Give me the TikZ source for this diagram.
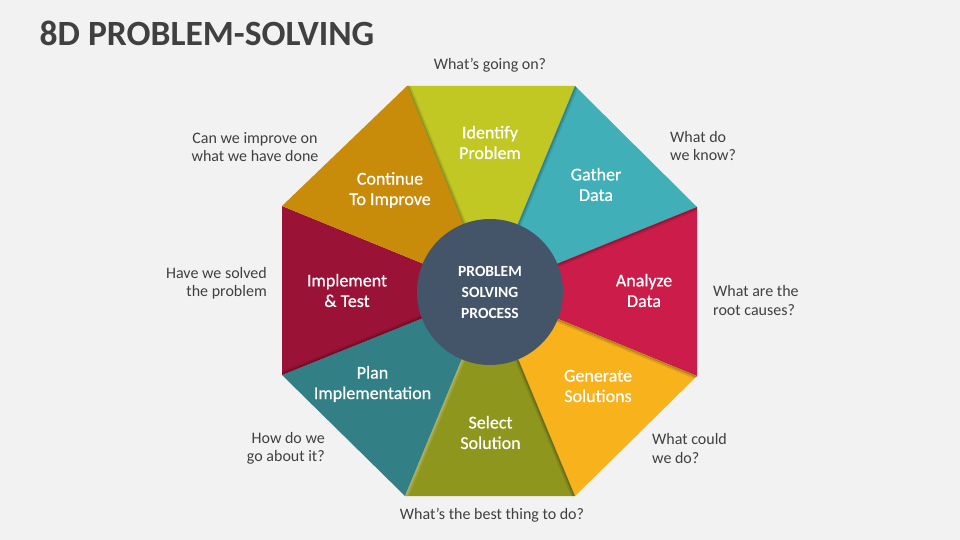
\documentclass[tikz,border=0pt]{standalone}
\usepackage{fontspec}
\setmainfont{Carlito}
\newfontfamily\segfont[FakeBold=0.6]{Carlito}
\definecolor{bg}{HTML}{F2F2F2}
\definecolor{txt}{HTML}{404040}
\definecolor{cIdent}{HTML}{C2C823}
\definecolor{cGather}{HTML}{40AFB8}
\definecolor{cAnalyze}{HTML}{CB1C4A}
\definecolor{cGenerate}{HTML}{F8B21C}
\definecolor{cSelect}{HTML}{8F961E}
\definecolor{cPlan}{HTML}{327F85}
\definecolor{cImpl}{HTML}{9B1237}
\definecolor{cCont}{HTML}{C88B0A}
\definecolor{cCenter}{HTML}{445569}
\newcommand\shedge[5]{%
  \begin{scope}
    \clip (#1) -- (#2) -- (#3) -- cycle;
    \draw[#5, opacity=0.10, line width=7pt] (#4) -- (C);
    \draw[#5, opacity=0.16, line width=3.5pt] (#4) -- (C);
  \end{scope}}
\tikzset{
  segtext/.style={text=white, align=center, font=\segfont\fontsize{18}{20.5}\selectfont, inner sep=0pt},
  labeltext/.style={text=txt, font=\fontsize{16}{18.5}\selectfont, inner sep=0pt},
  centertext/.style={text=white, align=center, font=\bfseries\fontsize{15.5}{20.7}\selectfont, inner sep=0pt},
}
\begin{document}
\begin{tikzpicture}[x=1pt,y=-1pt]
\fill[bg] (0,0) rectangle (960,540);
\useasboundingbox (0,0) rectangle (960,540);
\coordinate (C) at (490,291);
\coordinate (v1) at (407,86);
\coordinate (v2) at (575,86);
\coordinate (v3) at (697,207);
\coordinate (v4) at (697,376);
\coordinate (v5) at (575,496);
\coordinate (v6) at (405,496);
\coordinate (v7) at (282,375);
\coordinate (v8) at (282,206);
% segments
\fill[cIdent] (v1) -- (v2) -- (C) -- cycle;
\fill[cGather] (v2) -- (v3) -- (C) -- cycle;
\fill[cAnalyze] (v3) -- (v4) -- (C) -- cycle;
\fill[cGenerate] (v4) -- (v5) -- (C) -- cycle;
\fill[cSelect] (v5) -- (v6) -- (C) -- cycle;
\fill[cPlan] (v6) -- (v7) -- (C) -- cycle;
\fill[cImpl] (v7) -- (v8) -- (C) -- cycle;
\fill[cCont] (v8) -- (v1) -- (C) -- cycle;
% shadows
\shedge{v1}{v2}{C}{v1}{black}
\shedge{v2}{v3}{C}{v2}{black}
\shedge{v3}{v4}{C}{v3}{black}
\shedge{v4}{v5}{C}{v4}{black}
\shedge{v5}{v6}{C}{v5}{black}
\shedge{v5}{v6}{C}{v6}{white}
\shedge{v7}{v8}{C}{v7}{black}
% center
\node[circle, fill=cCenter, minimum size=146pt, inner sep=0pt] (ctr) at (490,292) {};
\node[centertext] (ctrtext) at (490,292.5) {PROBLEM\\SOLVING\\PROCESS};
% segment texts
\node[segtext] (tIdent) at (490,142.5) {Identify\\Problem};
\node[segtext] (tGather) at (596,184.5) {Gather\\Data};
\node[segtext] (tAnalyze) at (644,290.5) {Analyze\\Data};
\node[segtext] (tGenerate) at (598,386) {Generate\\Solutions};
\node[segtext] (tSelect) at (490.5,432.5) {Select\\Solution};
\node[segtext] (tPlan) at (372.5,384) {Plan\\Implementation};
\node[segtext] (tImpl) at (347,290.5) {Implement\\\& Test};
\node[segtext] (tCont) at (390,190) {Continue\\To Improve};
% labels
\node[labeltext] (l1) at (490,65) {What’s going on?};
\node[labeltext, align=center] (l2) at (255,147) {Can we improve on\\what we have done};
\node[labeltext, align=left, anchor=west] (l3) at (670,146) {What do\\we know?};
\node[labeltext, align=right, anchor=east] (l4) at (267,283) {Have we solved\\the problem};
\node[labeltext, align=left, anchor=west] (l5) at (713,300.5) {What are the\\root causes?};
\node[labeltext, align=right, anchor=east] (l6) at (325,448.5) {How do we\\go about it?};
\node[labeltext, align=left, anchor=west] (l7) at (652,448.5) {What could\\we do?};
\node[labeltext] (l8) at (492,515) {What’s the best thing to do?};
% title
\node[anchor=base west, inner sep=0pt, text=txt, font=\bfseries\fontsize{35.5}{40}\selectfont] (title) at (39.5,45.7) {8D PROBLEM-SOLVING};
\end{tikzpicture}
\end{document}
